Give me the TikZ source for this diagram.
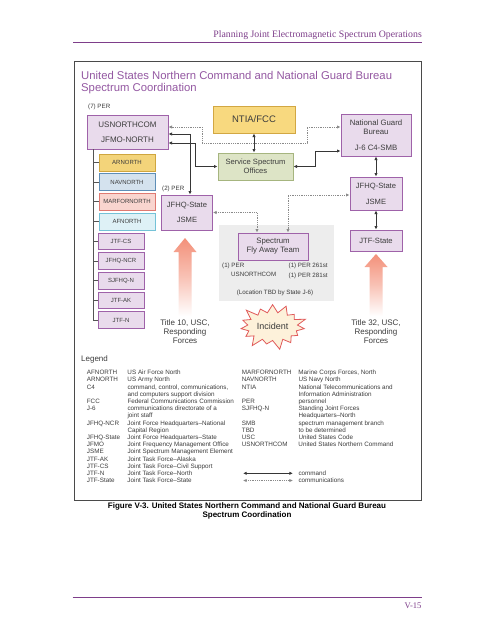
\documentclass[tikz,border=0pt]{standalone}
\usepackage{fontspec}
\setmainfont{Liberation Serif}
\setsansfont{Liberation Sans}
\usetikzlibrary{shapes,shapes.symbols,arrows.meta,positioning}
\definecolor{hdrpurple}{HTML}{7E3E8A}
\definecolor{ttlpurple}{HTML}{9458A2}
\definecolor{boxtext}{HTML}{3C3C3C}
\definecolor{jointfill}{HTML}{E9DBEC}
\definecolor{jointedge}{HTML}{9F62A9}
\definecolor{armyfill}{HTML}{F3D47A}
\definecolor{armyedge}{HTML}{CFA63F}
\definecolor{navyfill}{HTML}{D4E2EE}
\definecolor{navyedge}{HTML}{5E8EB7}
\definecolor{marinefill}{HTML}{F9D5CF}
\definecolor{marineedge}{HTML}{DF7A72}
\definecolor{airfill}{HTML}{DEF1F6}
\definecolor{airedge}{HTML}{74C2D7}
\definecolor{ntiafill}{HTML}{F8D97F}
\definecolor{ntiaedge}{HTML}{D2A743}
\definecolor{ssofill}{HTML}{DDE4C6}
\definecolor{ssoedge}{HTML}{A6B57F}
\definecolor{panelgray}{HTML}{EDEDED}
\definecolor{burstfill}{HTML}{FDF1DA}
\definecolor{burstedge}{HTML}{E05A5A}
\definecolor{forcesalmon}{HTML}{F39079}
\definecolor{linedark}{HTML}{363636}
\definecolor{linegray}{HTML}{8A8A8A}
\tikzstyle{unit} = [draw, rectangle, line width=0.8pt, inner sep=0pt, text=boxtext, font=\sffamily\fontsize{6}{7}\selectfont]
\tikzstyle{armybox} = [unit, fill=armyfill, draw=armyedge, minimum width=56pt, minimum height=17pt]
\tikzstyle{navybox} = [unit, fill=navyfill, draw=navyedge, minimum width=56pt, minimum height=17pt]
\tikzstyle{marinebox} = [unit, fill=marinefill, draw=marineedge, minimum width=56pt, minimum height=17pt]
\tikzstyle{airbox} = [unit, fill=airfill, draw=airedge, minimum width=56pt, minimum height=17pt]
\tikzstyle{jtfbox} = [unit, fill=jointfill, draw=jointedge, minimum width=46pt, minimum height=16.5pt]
\tikzstyle{hqbox} = [unit, fill=jointfill, draw=jointedge, align=center]
\tikzstyle{agencybox} = [unit, fill=ntiafill, draw=ntiaedge]
\tikzstyle{servicebox} = [unit, fill=ssofill, draw=ssoedge, align=center]
\tikzstyle{cmdline} = [<->, draw=linedark, line width=0.9pt]
\tikzstyle{commline} = [<->, draw=linegray, line width=0.8pt, densely dotted]
\tikzstyle{treeline} = [draw=linedark!85, line width=0.9pt]
\tikzstyle{smalltxt} = [inner sep=0pt, text=boxtext, font=\sffamily\fontsize{6.2}{7.2}\selectfont]
\tikzstyle{forcetxt} = [inner sep=0pt, text=boxtext, align=center, font=\sffamily\fontsize{8}{9}\selectfont]
\tikzstyle{legendtxt} = [inner sep=0pt, text=boxtext, font=\sffamily\fontsize{6.3}{7.2}\selectfont]
\tikzstyle{forcearrow} = [top color=forcesalmon, bottom color=white, middle color=forcesalmon!55]

\begin{document}
\begin{tikzpicture}[x=1pt,y=-1pt,>={Latex[length=3.6pt,width=3.3pt]}]
	\useasboundingbox[fill=white] (0,0) rectangle (495,640);
	\node[anchor=base east, inner sep=0pt, text=hdrpurple, font=\fontsize{9.8}{11}\selectfont] (pagehead) at (422,37.5) {Planning Joint Electromagnetic Spectrum Operations};
	\draw[hdrpurple, line width=1pt] (73,42.3) -- (422,42.3);
	\draw[linedark!90, line width=0.8pt] (74,61.5) rectangle (421.7,500.5);
	\node[anchor=north west, inner sep=0pt, align=left, text=ttlpurple, font=\sffamily\fontsize{11.3}{12.4}\selectfont] (title) at (81,70.8) {United States Northern Command and National Guard Bureau\\Spectrum Coordination};

	\node[smalltxt, anchor=west] (perseven) at (88,107) {(7) PER};
	\node[hqbox, minimum width=81pt, minimum height=34pt, font=\sffamily\fontsize{8}{15}\selectfont] (usnc) at (127.5,132) {USNORTHCOM\\JFMO-NORTH};
	\node[agencybox, minimum width=82pt, minimum height=27pt, font=\sffamily\fontsize{9.5}{11}\selectfont] (ntia) at (254,119.5) {NTIA/FCC};
	\node[hqbox, minimum width=70pt, minimum height=42pt, font=\sffamily\fontsize{7.8}{9}\selectfont] (ngb) at (376,135) {National Guard\\Bureau\\[7pt]J-6 C4-SMB};
	\node[servicebox, minimum width=75pt, minimum height=27pt, font=\sffamily\fontsize{7.6}{8.8}\selectfont] (sso) at (255.5,166.5) {Service Spectrum\\Offices};

	\node[armybox] (arnorth) at (127,162.5) {ARNORTH};
	\node[navybox] (navnorth) at (127,182.2) {NAVNORTH};
	\node[marinebox] (marfornorth) at (127,201.9) {MARFORNORTH};
	\node[airbox] (afnorth) at (127,221.6) {AFNORTH};
	\node[jtfbox] (jtfcs) at (121,241.3) {JTF-CS};
	\node[jtfbox] (jfhqncr) at (121,261) {JFHQ-NCR};
	\node[jtfbox] (sjfhqn) at (121,280.7) {SJFHQ-N};
	\node[jtfbox] (jtfak) at (121,300.4) {JTF-AK};
	\node[jtfbox] (jtfn) at (121,320.1) {JTF-N};

	\node[smalltxt, anchor=west] (pertwo) at (162,189) {(2) PER};
	\node[hqbox, minimum width=51pt, minimum height=35pt, font=\sffamily\fontsize{7.6}{15}\selectfont] (jfhqL) at (187,212.5) {JFHQ-State\\JSME};
	\node[hqbox, minimum width=52pt, minimum height=33pt, font=\sffamily\fontsize{7.6}{16}\selectfont] (jfhqR) at (376,193.5) {JFHQ-State\\JSME};
	\node[hqbox, minimum width=52pt, minimum height=21pt, font=\sffamily\fontsize{7.6}{9}\selectfont] (jtfst) at (376,240.5) {JTF-State};

	\node[fill=panelgray, minimum width=115.5pt, minimum height=76pt, inner sep=0pt] (flypanel) at (276.5,263) {};
	\node[hqbox, minimum width=70pt, minimum height=27pt, font=\sffamily\fontsize{7.8}{9}\selectfont] (sfat) at (273,246.5) {Spectrum\\Fly Away Team};
	\node[smalltxt, anchor=west] (perone) at (222,266) {(1) PER};
	\node[smalltxt, anchor=west] (pernc) at (231,274) {USNORTHCOM};
	\node[smalltxt, anchor=west] (perst) at (288.5,266) {(1) PER 261st};
	\node[smalltxt, anchor=west] (pernd) at (288.5,275.5) {(1) PER 281st};
	\node[smalltxt] (location) at (275,293) {(Location TBD by State J-6)};

	\draw[cmdline] (ntia.south) -- (ntia.south |- sso.north);
	\draw[commline] ([yshift=5pt]usnc.east) -| (202,143) -| (307,127) -- ([yshift=8pt]ngb.west);
	\draw[cmdline] ([yshift=-2pt]usnc.east) -| ([xshift=3pt]jfhqL.north);
	\draw[cmdline] ([yshift=-11pt]usnc.east) -- ++(27,0) |- (sso.west);
	\draw[cmdline] (sso.east) -- ++(22,0) |- ([yshift=-16pt]ngb.west);
	\draw[cmdline] (ngb.south) -- (jfhqR.north);
	\draw[cmdline] (jfhqR.south) -- (jtfst.north);
	\draw[commline] ([yshift=-1.5pt]jfhqR.west) -| ([xshift=15pt]sfat.north);
	\draw[commline] (jfhqL.east) -| ([xshift=-16pt]sfat.north);

	\coordinate (trunk) at (93,149);
	\draw[treeline] (trunk) |- (jtfn.west);
	\draw[treeline] (trunk |- arnorth) -- (arnorth.west);
	\draw[treeline] (trunk |- navnorth) -- (navnorth.west);
	\draw[treeline] (trunk |- marfornorth) -- (marfornorth.west);
	\draw[treeline] (trunk |- afnorth) -- (afnorth.west);
	\draw[treeline] (trunk |- jtfcs) -- (jtfcs.west);
	\draw[treeline] (trunk |- jfhqncr) -- (jfhqncr.west);
	\draw[treeline] (trunk |- sjfhqn) -- (sjfhqn.west);
	\draw[treeline] (trunk |- jtfak) -- (jtfak.west);

	\shade[forcearrow] (185,238) -- (196.5,252) -- (191.5,252) -- (191.5,316) -- (178.5,316) -- (178.5,252) -- (173.5,252) -- cycle;
	\shade[forcearrow] (376,254) -- (387.5,267) -- (382.5,267) -- (382.5,316) -- (369.5,316) -- (369.5,267) -- (364.5,267) -- cycle;
	\node[forcetxt] (titleten) at (185,332) {Title 10, USC,\\Responding\\Forces};
	\node[forcetxt] (titlethirtytwo) at (376,332) {Title 32, USC,\\Responding\\Forces};
	\node[starburst, starburst points=15, starburst point height=11pt, fill=burstfill, draw=burstedge, line width=0.8pt, minimum width=72pt, minimum height=50pt, inner sep=0pt, text=boxtext, font=\sffamily\fontsize{9}{10}\selectfont] (incident) at (272.6,326.5) {Incident};

	\node[anchor=base west, inner sep=0pt, text=boxtext, font=\sffamily\fontsize{8}{9}\selectfont] (legend) at (81,361) {Legend};
	\node[legendtxt, anchor=base west] (legendleft) at (86.7,374.7) {\begin{tabular}[t]{@{}p{40.6pt}@{}l@{}}
		AFNORTH & US Air Force North\\
		ARNORTH & US Army North\\
		C4 & command, control, communications,\\
		 & and computers support division\\
		FCC & Federal Communications Commission\\
		J-6 & communications directorate of a\\
		 & joint staff\\
		JFHQ-NCR & Joint Force Headquarters--National\\
		 & Capital Region\\
		JFHQ-State & Joint Force Headquarters--State\\
		JFMO & Joint Frequency Management Office\\
		JSME & Joint Spectrum Management Element\\
		JTF-AK & Joint Task Force--Alaska\\
		JTF-CS & Joint Task Force--Civil Support\\
		JTF-N & Joint Task Force--North\\
		JTF-State & Joint Task Force--State
	\end{tabular}};
	\node[legendtxt, anchor=base west] (legendright) at (241.7,374.7) {\begin{tabular}[t]{@{}p{56.6pt}@{}l@{}}
		MARFORNORTH & Marine Corps Forces, North\\
		NAVNORTH & US Navy North\\
		NTIA & National Telecommunications and\\
		 & Information Administration\\
		PER & personnel\\
		SJFHQ-N & Standing Joint Forces\\
		 & Headquarters--North\\
		SMB & spectrum management branch\\
		TBD & to be determined\\
		USC & United States Code\\
		USNORTHCOM & United States Northern Command
	\end{tabular}};
	\node[legendtxt, anchor=base west] (cmdlabel) at (298.3,475.5) {command};
	\node[legendtxt, anchor=base west] (commlabel) at (298.3,482.7) {communications};
	\coordinate (cmdfrom) at (243,473.3);
	\coordinate (cmdto) at (293,473.3);
	\coordinate (commfrom) at (243,480.5);
	\coordinate (commto) at (293,480.5);
	\draw[cmdline] (cmdfrom) -- (cmdto);
	\draw[commline] (commfrom) -- (commto);

	\node[anchor=north, inner sep=0pt, align=center, text=black, font=\sffamily\bfseries\fontsize{8}{9.4}\selectfont] (caption) at (247,502.2) {Figure V-3. United States Northern Command and National Guard Bureau\\Spectrum Coordination};
	\draw[hdrpurple, line width=1pt] (72.7,597.3) -- (421.7,597.3);
	\node[anchor=base east, inner sep=0pt, text=hdrpurple, font=\fontsize{8.6}{10}\selectfont] (pagefoot) at (421.7,608.5) {V-15};
\end{tikzpicture}
\end{document}
